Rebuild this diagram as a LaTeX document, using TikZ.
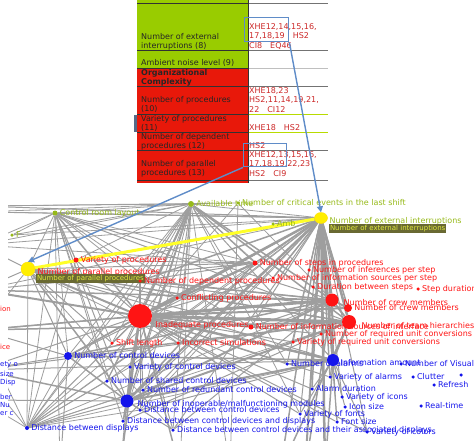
\documentclass[tikz,border=0pt]{standalone}
\usepackage{fontspec}
\setmainfont{DejaVu Sans}
\usetikzlibrary{arrows.meta,backgrounds,shapes.geometric}
\definecolor{tgreen}{RGB}{153,204,0}
\definecolor{tred}{RGB}{232,24,10}
\definecolor{ttext}{RGB}{204,40,40}
\definecolor{ngreen}{RGB}{150,185,25}
\definecolor{nred}{RGB}{255,20,20}
\definecolor{nblue}{RGB}{20,20,235}
\definecolor{egray}{RGB}{158,158,158}
\definecolor{ablue}{RGB}{95,140,200}
\definecolor{nyellow}{RGB}{255,238,0}
\definecolor{yedge}{RGB}{255,255,40}
\definecolor{hlbg}{RGB}{105,105,50}
\definecolor{hltext}{RGB}{225,235,60}
\definecolor{rowline}{RGB}{50,50,50}
\begin{document}
\begin{tikzpicture}[x=1pt,y=-1pt,
  lab/.style={font=\fontsize{8}{9}\selectfont, inner sep=0.5pt},
  glab/.style={lab, text=ngreen},
  rlab/.style={lab, text=nred},
  blab/.style={lab, text=nblue},
  gl/.style={label={[glab]0:#1}},
  rl/.style={label={[rlab]0:#1}},
  bl/.style={label={[blab]0:#1}},
  label distance=1.5pt,
  dot/.style={circle, inner sep=0pt, minimum size=#1},
  gdot/.style={dot=#1, fill=ngreen},
  rdot/.style={dot=#1, fill=nred},
  bdot/.style={dot=#1, fill=nblue},
  ydot/.style={dot=#1, fill=nyellow, draw=nyellow!85!orange},
  edge/.style={draw=egray},
  tl/.style={font=\fontsize{8}{9}\selectfont, align=left, anchor=west, inner sep=0pt, text=black!85},
  tr/.style={font=\fontsize{8}{9.3}\selectfont, align=left, anchor=west, inner sep=0pt, text=ttext},
  bluebox/.style={draw=ablue, line width=1.4pt},
  bluearrow/.style={draw=ablue, line width=1.4pt, -{Triangle[length=6pt,width=6pt]}},
  hl/.style={font=\fontsize{7}{8}\selectfont, fill=hlbg, text=hltext, inner sep=0.8pt, anchor=west},
  cut/.style={font=\fontsize{7}{8}\selectfont, inner sep=0pt, anchor=west},
]
\useasboundingbox (0,0) rectangle (474,441);

% ---------------- network nodes ----------------
% green
\node[gdot=5, gl={Control room layout}] (crl) at (55,213) {};
\node[gdot=6, gl={Available time}] (avt) at (191,204) {};
\node[gdot=3.5, gl={Number of critical events in the last shift}] (nce) at (238,203) {};
\node[gdot=3.5, gl={F}] (fx) at (12,235) {};
\node[gdot=3.5, gl={Amb}] (amb) at (273,224) {};
\node[ellipse, inner sep=0pt, minimum width=13, minimum height=11, fill=nyellow, draw=nyellow!85!orange] (ext) at (321,218) {};
\node[glab, anchor=west] (extl) at (329,221) {Number of external interruptions};
\node[hl] (exth) at (329,228.5) {Number of external interruptions};
\node[ydot=14] (par) at (28,269) {};
\node[rlab, anchor=west] (parl) at (37,272) {Number of parallel procedures};
\node[hl] (parh) at (36,278.5) {Number of parallel procedures};
% red
\node[rdot=5, rl={Variety of procedures}] (vp) at (76,260) {};
\node[rdot=3.5, rl={Number of dependent procedures}] (dep) at (140,281) {};
\node[rdot=3.5, rl={Conflicting procedures}] (conf) at (177,298) {};
\node[rdot=24] (inad) at (140,316) {};
\node[rlab, anchor=west] (inadl) at (155,325) {Inadequate procedures};
\node[rdot=3.5, rl={Shift length}] (shift) at (112,343) {};
\node[rdot=3.5, rl={Incorrect simulations}] (incsim) at (178,343) {};
\node[rdot=5, rl={Number of steps in procedures}] (steps) at (255,263) {};
\node[rdot=3.5, rl={Number of inferences per step}] (infer) at (309,270) {};
\node[rdot=3.5, rl={Number of information sources per step}] (isrc) at (273,278) {};
\node[rdot=3.5, rl={Duration between steps}] (durs) at (313,287) {};
\node[rdot=3.5, rl={Step duration}] (sdur) at (418,289) {};
\node[rdot=13] (rbig) at (332,300) {};
\node[rlab, anchor=west] (rbigl) at (343,303) {Number of crew members};
\node[rdot=8, rl={Number of crew members}] (crew1) at (348,308) {};
\node[rdot=14] (team) at (349,322) {};
\node[rlab, anchor=west] (teaml) at (361,326) {Number of team hierarchies};
\node[rdot=5, rl={Number of information sources of interface}] (isoi) at (251,327) {};
\node[rdot=3.5, rl={Number of required unit conversions}] (ruc) at (321,334) {};
\node[rdot=3.5, rl={Variety of required unit conversions}] (vruc) at (293,342) {};
% blue
\node[bdot=8, bl={Number of control devices}] (ctrl) at (68,356) {};
\node[bdot=3.5, bl={Variety of control devices}] (vcd) at (130,367) {};
\node[bdot=3.5, bl={Number of shared control devices}] (shcd) at (107,381) {};
\node[bdot=3.5, bl={Number of redundant control devices}] (rdcd) at (143,390) {};
\node[bdot=13] (inop) at (127,401) {};
\node[blab, anchor=west] (inopl) at (137,404) {Number of inoperable/malfunctioning modules};
\node[bdot=3.5, bl={Distance between control devices}] (dcd) at (140,410) {};
\node[bdot=3.5, bl={Distance between control devices and displays}] (dcdd) at (123,421) {};
\node[bdot=4, bl={Distance between displays}] (dbd) at (27,428) {};
\node[bdot=3.5, bl={Distance between control devices and their associated displays}] (dassoc) at (173,430) {};
\node[bdot=3.5, bl={Number of alarms}] (nalarm) at (287,364) {};
\node[bdot=12] (iamt) at (333,360) {};
\node[blab, anchor=west] (iamtl) at (340,363) {Information amount};
\node[bdot=3.5, bl={Number of Visual}] (nvis) at (401,364) {};
\node[bdot=3.5, bl={Variety of alarms}] (valarm) at (330,377) {};
\node[bdot=3.5, bl={Clutter}] (clut) at (413,377) {};
\node[bdot=3.5] (bx) at (461,375) {};
\node[bdot=3.5, bl={Refresh}] (refr) at (434,385) {};
\node[bdot=3.5, bl={Alarm duration}] (adur) at (312,389) {};
\node[bdot=3.5, bl={Variety of icons}] (vicon) at (342,397) {};
\node[bdot=3.5, bl={Icon size}] (isize) at (345,407) {};
\node[bdot=3.5, bl={Real-time}] (rtime) at (421,406) {};
\node[bdot=3.5, bl={Variety of fonts}] (vfont) at (300,414) {};
\node[bdot=3.5, bl={Font size}] (fsize) at (337,422) {};
\node[bdot=3.5, bl={Variety of colors}] (vcol) at (367,432) {};
% fragments of labels cut by the left edge
\node[cut, text=nred] (c1) at (0,309) {ion};
\node[cut, text=nred] (c2) at (0,347) {ice};
\node[cut, text=nblue] (c3) at (0,365) {ety o};
\node[cut, text=nblue] (c4) at (0,374) {size};
\node[cut, text=nblue] (c5) at (0,383) {Disp};
\node[cut, text=nblue] (c6) at (0,397) {ber};
\node[cut, text=nblue] (c7) at (0,405) {Nu};
\node[cut, text=nblue] (c8) at (0,414) {er c};

% free ends outside the frame
\coordinate (L1) at (-20,206); \coordinate (L2) at (-20,212);
\coordinate (L3) at (-20,245); \coordinate (L4) at (-20,290);
\coordinate (L5) at (-20,330); \coordinate (L6) at (-20,370);
\coordinate (L7) at (-20,400);
\coordinate (B1) at (60,470); \coordinate (B2) at (120,470);
\coordinate (B3) at (180,470); \coordinate (B4) at (230,470);
\coordinate (B5) at (280,470); \coordinate (B6) at (305,470);
\coordinate (B7) at (325,470);

% ---------------- edges ----------------
\begin{scope}[on background layer]
\clip (8,196) rectangle (474,441);
\foreach \s/\t/\w in {
 ext/crl/1.2, ext/fx/0.8, ext/L1/1, ext/L2/0.8, ext/avt/0.8, ext/vp/0.8, ext/dep/1.5, ext/conf/1,
 ext/inad/2.5, ext/steps/1.5, ext/infer/1, ext/isrc/1.5, ext/durs/1, ext/rbig/2.5, ext/crew1/1.5,
 ext/team/2.5, ext/isoi/1, ext/ruc/1, ext/vruc/1, ext/ctrl/1, ext/vcd/0.8, ext/shcd/0.8, ext/rdcd/1,
 ext/inop/2, ext/dcd/0.8, ext/dcdd/1, ext/dassoc/1, ext/iamt/2.5, ext/nalarm/1, ext/valarm/1.5,
 ext/adur/1.5, ext/vicon/1, ext/vfont/1, ext/fsize/1, ext/vcol/1, ext/B6/2, ext/B7/2.5, ext/B5/1.5,
 ext/L3/0.8, ext/L4/0.8, ext/amb/1,
 avt/crl/0.8, avt/fx/0.8, avt/L1/0.8, avt/L2/0.8, avt/L3/0.8, avt/vp/0.8, avt/dep/1, avt/conf/1,
 avt/inad/2, avt/shift/0.8, avt/incsim/0.8, avt/steps/1, avt/isrc/0.8, avt/rbig/1.5, avt/team/1.5,
 avt/ctrl/0.8, avt/vcd/0.8, avt/shcd/0.8, avt/inop/1.5, avt/dcd/0.8, avt/dcdd/0.8, avt/dassoc/0.8,
 avt/nalarm/0.8, avt/vfont/0.8, avt/B3/0.8, avt/B4/0.8, avt/iamt/1,
 nce/L1/0.8, nce/inad/0.8, nce/rbig/0.8, nce/B4/0.8,
 crl/fx/0.8, crl/L2/0.8, crl/L3/0.8, crl/vp/0.8, crl/dep/0.8, crl/conf/0.8, crl/inad/1.5,
 crl/shift/0.8, crl/ctrl/0.8, crl/shcd/0.8, crl/inop/1, crl/dcdd/0.8, crl/par/0.8, crl/rbig/1,
 crl/steps/0.8, crl/B1/0.8, crl/team/1, crl/isoi/0.8,
 par/L3/1, par/L4/1, par/L5/0.8, par/dep/1, par/conf/1, par/inad/2, par/shift/1, par/incsim/0.8,
 par/ctrl/1, par/inop/1.5, par/rbig/1.5, par/steps/1, par/team/1.5, par/dassoc/0.8, par/isoi/1,
 par/iamt/1, par/crew1/1,
 inad/L4/2, inad/L5/1.5, inad/L6/1, inad/conf/1.5, inad/dep/1.5, inad/steps/2, inad/isrc/1,
 inad/rbig/3, inad/crew1/2, inad/team/3, inad/isoi/1.5, inad/ruc/1, inad/vruc/1, inad/ctrl/1.5,
 inad/vcd/1, inad/shcd/1, inad/rdcd/1, inad/inop/2.5, inad/dcd/1, inad/dcdd/1, inad/dassoc/1,
 inad/iamt/2.5, inad/nalarm/1, inad/valarm/1, inad/adur/1, inad/vfont/1, inad/fsize/1, inad/vcol/1,
 inad/B2/1.5, inad/B3/1.5, inad/shift/1, inad/incsim/1, inad/vp/1,
 dbd/ctrl/0.8, dbd/vcd/0.8, dbd/shcd/0.8, dbd/rdcd/0.8, dbd/inop/1, dbd/dcd/0.8, dbd/par/0.8,
 dbd/crl/0.8, dbd/vp/0.8, dbd/inad/1, dbd/L6/0.8, dbd/L7/0.8, dbd/conf/0.8, dbd/dep/0.8,
 dbd/steps/0.8, dbd/rbig/0.8, dbd/team/0.8, dbd/iamt/0.8, dbd/avt/0.8, dbd/ext/0.8, dbd/L5/0.8,
 rbig/team/2, rbig/crew1/2, rbig/inop/2, rbig/iamt/2, rbig/ctrl/1.5, rbig/conf/1, rbig/dep/1,
 rbig/L4/1.5, rbig/L5/1, rbig/isoi/1, rbig/dassoc/1, rbig/B6/1.5,
 team/iamt/2, team/inop/2, team/ctrl/1.5, team/ruc/1, team/vruc/1, team/isoi/1, team/L5/1.5,
 team/L6/1, team/dcdd/1, team/B5/1.5,
 iamt/inop/2, iamt/ctrl/1.5, iamt/dcd/1, iamt/nalarm/1, iamt/valarm/1, iamt/adur/1, iamt/vicon/1,
 iamt/isize/1, iamt/vfont/1, iamt/fsize/1, iamt/vcol/1, iamt/B7/1.5, iamt/L6/1,
 inop/ctrl/1.5, inop/vcd/1, inop/dcd/1, inop/dcdd/1, inop/dassoc/1, inop/L6/1.5, inop/L7/1, inop/B2/1,
 steps/conf/1, steps/dep/1, steps/vp/0.8, steps/L4/1, steps/ctrl/1, steps/inop/1.5, steps/L3/0.8,
 ctrl/L5/1, ctrl/L6/1, ctrl/B1/1}
 \draw[edge, line width=\w pt] (\s) -- (\t);
\draw[draw=yedge, line width=3pt] (par) -- (ext);
\end{scope}

% ---------------- table ----------------
\fill[tgreen] (137,-2) rectangle (248,68);
\fill[tred] (137,68) rectangle (248,183);
\fill[black!30!ablue!70!gray] (134,115) rectangle (137,132);
\foreach \yy in {3,50,68,86,114,132,150,180}
  \draw[rowline, line width=0.6pt] (137,\yy) -- (248,\yy);
\foreach \yy in {3,50,86,150,180}
  \draw[black!55, line width=0.6pt] (248,\yy) -- (328,\yy);
\draw[black!25, line width=0.5pt] (248,68) -- (328,68);
\draw[tgreen!70!yellow, line width=0.8pt] (248,114) -- (328,114) (248,132) -- (328,132);
\draw[rowline, line width=0.5pt] (248,-2) -- (248,183);
% left texts
\node[tl] (t8) at (141,41.5) {Number of external\\interruptions (8)};
\node[tl] (t9) at (141,63) {Ambient noise level (9)};
\node[tl, font=\fontsize{8}{9}\selectfont\bfseries] (th) at (141,77.5) {Organizational\\Complexity};
\node[tl] (t10) at (141,104.5) {Number of procedures\\(10)};
\node[tl] (t11) at (141,123.5) {Variety of procedures\\(11)};
\node[tl] (t12) at (141,141.5) {Number of dependent\\procedures (12)};
\node[tl] (t13) at (141,168.5) {Number of parallel\\procedures (13)};
% right texts
\node[tr] (r8) at (249,36.5) {XHE12,14,15,16,\\17,18,19\quad HS2\\CI8\quad EQ46};
\node[tr] (r10) at (249,100) {XHE18,23\\HS2,11,14,19,21,\\22\quad CI12};
\node[tr] (r11) at (249,128) {XHE18\quad HS2};
\node[tr] (r12) at (249,146) {HS2};
\node[tr] (r13) at (249,164) {XHE12,13,15,16,\\17,18,19,22,23\\HS2\quad CI9};

% ---------------- blue highlight boxes and arrows ----------------
\node[bluebox, minimum width=44, minimum height=24, inner sep=0pt, anchor=north west] (box1) at (244,17) {};
\node[bluebox, minimum width=43, minimum height=23, inner sep=0pt, anchor=north west] (box2) at (243,143) {};
\draw[bluearrow] (box1.south east) -- (ext.north);
\draw[bluearrow] (box2.south west) -- (par.north);
\end{tikzpicture}
\end{document}
